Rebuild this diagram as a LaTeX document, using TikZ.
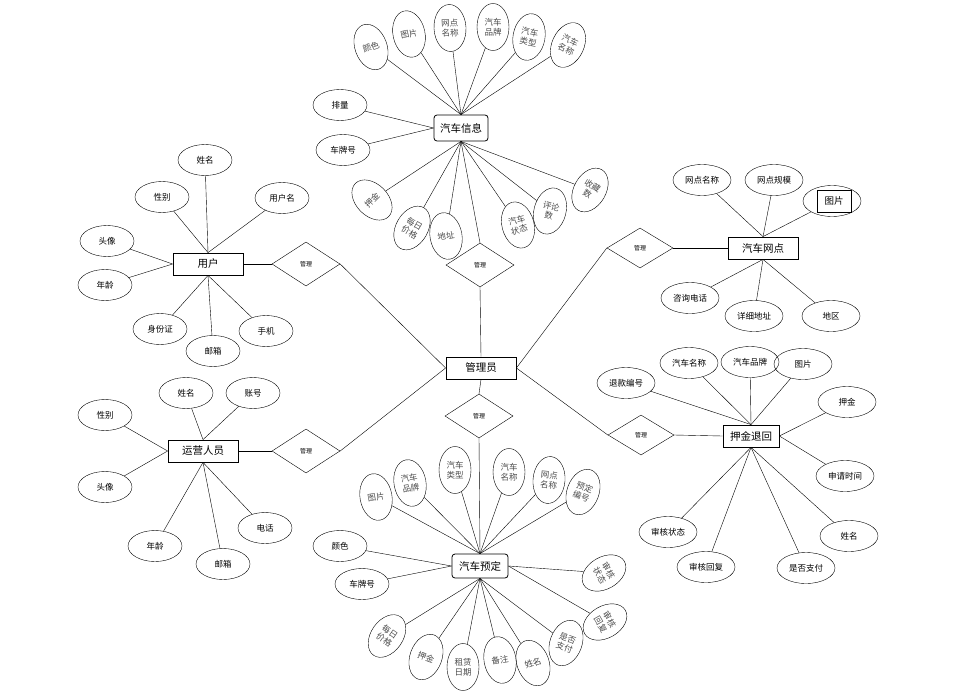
\documentclass[tikz,border=0pt]{standalone}
\usepackage{fontspec}
\setmainfont{Noto Sans CJK SC}
\usetikzlibrary{shapes.geometric}
\tikzset{%
  every attr/.style={
    ellipse,
    draw,
    inner sep=0pt,
    font=\fontsize{8.5}{10}\selectfont
  },
  attr flat/.style={minimum width=54pt, minimum height=31pt},
  attr tall/.style={minimum width=32pt, minimum height=47pt, align=center, text=black!70},
  entity/.style={draw, thick, minimum width=70pt, minimum height=22pt, font=\fontsize{10.5}{12}\selectfont},
  relation/.style={diamond, draw, inner sep=0pt, minimum width=68pt, minimum height=44pt, font=\fontsize{6}{7}\selectfont},
}

\begin{document}
\begin{tikzpicture}[x=1pt, y=-1pt]
\useasboundingbox (0,0) rectangle (960,696);

% entities
\node [entity, rounded corners=3pt, minimum width=54pt, minimum height=26pt] (info) at (461,128) {汽车信息};
\node [entity, rounded corners=3pt, minimum width=56pt, minimum height=24pt] (order) at (480,566) {汽车预定};
\node [entity] (user) at (208,264) {用户};
\node [entity] (staff) at (203,451) {运营人员};
\node [entity] (site) at (763,248) {汽车网点};
\node [entity, minimum width=56pt] (refund) at (751,436) {押金退回};
\node [entity] (admin) at (481,368) {管理员};

% relations
\node [relation] (r-info) at (480,265) {管理};
\node [relation] (r-order) at (479,416) {管理};
\node [relation] (r-user) at (306,264) {管理};
\node [relation] (r-staff) at (306,451) {管理};
\node [relation, minimum width=66pt, minimum height=40pt] (r-site) at (640,248) {管理};
\node [relation, minimum width=66pt, minimum height=40pt] (r-refund) at (641,435) {管理};

\draw (info.south) -- (r-info.north);
\draw (r-info.south) -- (admin.north);
\draw (admin.south) -- (r-order.north);
\draw (r-order.south) -- (order.north);
\draw (user.east) -- (r-user.west);
\draw (r-user.east) -- (admin.west);
\draw (staff.east) -- (r-staff.west);
\draw (r-staff.east) -- (admin.west);
\draw (admin.east) -- (r-site.west);
\draw (r-site.east) -- (site.west);
\draw (admin.east) -- (r-refund.west);
\draw (r-refund.east) -- (refund.west);

% attributes
\foreach \s/\t/\x/\y/\r/\a [count=\i] in {
  tall/颜色/371/47/20/north, tall/图片/409/34/12/north, tall/网点\\名称/450/28/3/north,
  tall/汽车\\品牌/493/27/0/north, tall/汽车\\类型/529/37/-10/north, tall/汽车\\名称/568/45/-25/north,
  flat/排量/340/105/0/west, flat/车牌号/343/150/0/west,
  tall/押金/372/200/45/south, tall/每日\\价格/412/228/-30/south, tall/地址/446/236/10/south,
  tall/汽车\\状态/518/225/15/south, tall/评论\\数/550/211/-15/south, tall/收藏\\数/590/190/-30/south}
{
  \node [every attr, attr \s, rotate=\r] (info-\i) at (\x,\y) {\t};
  \draw (info-\i) -- (info.\a);
}

\foreach \s/\t/\x/\y/\r/\a [count=\i] in {
  tall/图片/376/497/10/north, tall/汽车\\品牌/410/483/10/north, tall/汽车\\类型/455/470/0/north,
  tall/汽车\\名称/509/472/0/north, tall/网点\\名称/549/480/-5/north, tall/预定\\编号/583/492/-20/north,
  flat/颜色/340/546/0/west, flat/车牌号/362/584/0/west,
  tall/审核\\状态/604/573/-60/east, tall/审核\\回复/605/622/-60/east,
  tall/每日\\价格/387/636/-35/south, tall/押金/426/657/-20/south, tall/租赁\\日期/463/667/0/south,
  tall/备注/500/660/10/south, tall/姓名/533/663/20/south, tall/是否\\支付/566/643/-20/south}
{
  \node [every attr, attr \s, rotate=\r] (order-\i) at (\x,\y) {\t};
  \draw (order-\i) -- (order.\a);
}

\foreach \t/\x/\y/\a [count=\i] in {
  姓名/205/160/north, 性别/162/197/north, 用户名/282/198/north, 头像/107/241/west,
  年龄/105/285/west, 身份证/160/329/south, 邮箱/213/351/south, 手机/266/331/south}
{
  \node [every attr, attr flat] (user-\i) at (\x,\y) {\t};
  \draw (user-\i) -- (user.\a);
}

\foreach \t/\x/\y/\a [count=\i] in {
  姓名/186/393/north, 账号/253/393/north, 性别/105/415/west, 头像/105/487/west,
  年龄/155/546/south, 邮箱/223/564/south, 电话/265/528/south}
{
  \node [every attr, attr flat] (staff-\i) at (\x,\y) {\t};
  \draw (staff-\i) -- (staff.\a);
}

\foreach \t/\x/\y/\a [count=\i] in {
  网点名称/702/180/north, 网点规模/774/180/north, {}/832/201/north,
  咨询电话/690/298/south, 详细地址/754/316/south, 地区/831/316/south}
{
  \node [every attr, attr flat, minimum width=58pt] (site-\i) at (\x,\y) {\t};
  \draw (site-\i) -- (site.\a);
}
\node [draw, thick, fill=white, minimum width=34pt, minimum height=22pt, font=\fontsize{9.5}{11}\selectfont] (site-pic) at (834,201) {图片};

\foreach \t/\x/\y/\a [count=\i] in {
  退款编号/626/383/north, 汽车名称/689/363/north, 汽车品牌/750/362/north, 图片/803/364/north,
  押金/847/402/east, 申请时间/845/476/east, 姓名/849/536/south, 是否支付/806/568/south,
  审核回复/706/567/south, 审核状态/668/532/south}
{
  \node [every attr, attr flat, minimum width=58pt] (refund-\i) at (\x,\y) {\t};
  \draw (refund-\i) -- (refund.\a);
}

\end{tikzpicture}
\end{document}
